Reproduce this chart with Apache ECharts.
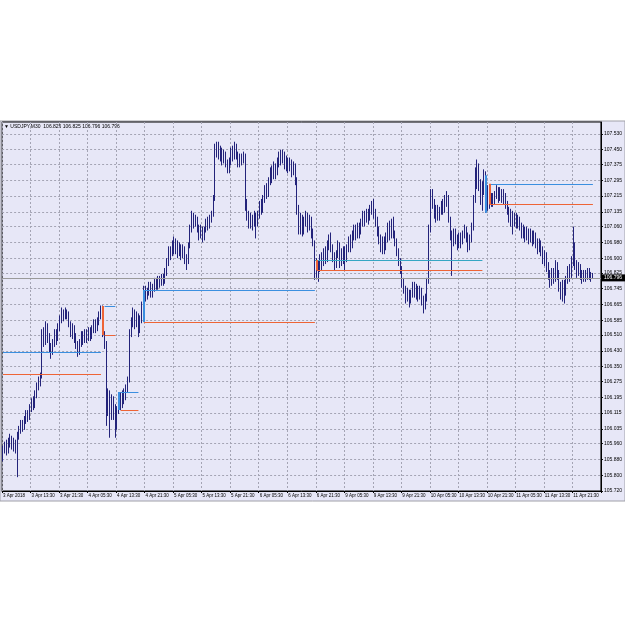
<!DOCTYPE html>
<html>
<head>
<meta charset="utf-8">
<script src="https://cdn.jsdelivr.net/npm/echarts@6/dist/echarts.min.js"></script>
<style>
  html, body { margin: 0; padding: 0; background: #ffffff; }
  #chart { width: 625px; height: 625px; }
</style>
</head>
<body>
<div id="chart"></div>
<script>
// USDJPY M30, 3 Apr 05:30 -> 12 Apr 03:00, one row per bar: [open, close, low, high]
const candles = [
  [105.90,105.93,105.87,105.95],[105.93,105.95,105.91,105.97],[105.95,105.92,105.90,105.98],[105.92,105.96,105.91,105.99],
  [105.96,105.98,105.94,106.01],[105.98,105.94,105.93,106.00],[105.94,105.97,105.92,105.99],[105.97,105.93,105.91,105.98],
  [105.93,106.00,105.79,106.02],[106.00,106.03,105.98,106.05],[106.03,106.06,106.01,106.08],[106.06,106.04,106.02,106.08],
  [106.04,106.08,106.03,106.10],[106.08,106.11,106.06,106.13],[106.11,106.09,106.07,106.13],[106.09,106.14,106.08,106.16],
  [106.14,106.17,106.12,106.19],[106.17,106.15,106.13,106.20],[106.15,106.21,106.14,106.23],[106.21,106.25,106.19,106.27],
  [106.25,106.28,106.23,106.30],[106.28,106.30,106.25,106.32],[106.30,106.52,106.29,106.54],[106.52,106.48,106.45,106.55],
  [106.48,106.55,106.46,106.58],[106.55,106.50,106.47,106.57],[106.50,106.45,106.42,106.52],[106.45,106.42,106.39,106.47],
  [106.42,106.47,106.41,106.49],[106.47,106.52,106.45,106.54],[106.52,106.49,106.46,106.54],[106.49,106.55,106.48,106.57],
  [106.55,106.59,106.53,106.61],[106.59,106.63,106.57,106.65],[106.63,106.60,106.58,106.64],[106.60,106.63,106.59,106.65],
  [106.63,106.61,106.59,106.64],[106.61,106.57,106.55,106.63],[106.57,106.52,106.50,106.58],[106.52,106.55,106.49,106.57],
  [106.55,106.50,106.47,106.56],[106.50,106.46,106.44,106.52],[106.46,106.43,106.40,106.48],[106.43,106.47,106.41,106.49],
  [106.47,106.51,106.45,106.53],[106.51,106.48,106.46,106.53],[106.48,106.52,106.47,106.54],[106.52,106.49,106.47,106.54],
  [106.49,106.53,106.48,106.55],[106.53,106.50,106.48,106.55],[106.50,106.54,106.49,106.56],[106.54,106.57,106.52,106.59],
  [106.57,106.54,106.52,106.59],[106.54,106.58,106.53,106.60],[106.58,106.61,106.56,106.63],[106.61,106.65,106.59,106.66],
  [106.65,106.52,106.50,106.66],[106.52,106.47,106.44,106.53],[106.47,106.15,106.05,106.48],[106.15,106.22,106.10,106.24],
  [106.22,106.10,105.99,106.23],[106.10,106.18,106.08,106.21],[106.18,106.14,106.08,106.20],[106.14,106.05,105.99,106.16],
  [106.05,106.13,106.03,106.15],[106.13,106.18,106.11,106.21],[106.18,106.16,106.13,106.22],[106.16,106.21,106.14,106.23],
  [106.21,106.19,106.16,106.24],[106.19,106.24,106.18,106.26],[106.24,106.28,106.22,106.30],[106.28,106.52,106.27,106.54],
  [106.52,106.58,106.50,106.60],[106.58,106.63,106.55,106.65],[106.63,106.57,106.54,106.64],[106.57,106.61,106.55,106.63],
  [106.61,106.55,106.50,106.62],[106.55,106.59,106.52,106.61],[106.59,106.65,106.57,106.68],[106.65,106.74,106.62,106.76],
  [106.74,106.70,106.68,106.76],[106.70,106.73,106.69,106.75],[106.73,106.76,106.71,106.78],[106.76,106.72,106.70,106.78],
  [106.72,106.75,106.70,106.77],[106.75,106.78,106.73,106.80],[106.78,106.76,106.74,106.80],[106.76,106.79,106.74,106.81],
  [106.79,106.77,106.75,106.81],[106.77,106.80,106.76,106.82],[106.80,106.78,106.76,106.82],[106.78,106.83,106.77,106.85],
  [106.83,106.88,106.81,106.90],[106.88,106.94,106.86,106.96],[106.94,106.92,106.89,106.96],[106.92,106.97,106.91,106.99],
  [106.97,106.94,106.92,107.01],[106.94,106.98,106.92,107.00],[106.98,106.93,106.90,106.99],[106.93,106.96,106.91,106.98],
  [106.96,106.92,106.89,106.97],[106.92,106.95,106.90,106.97],[106.95,106.90,106.87,106.96],[106.90,106.88,106.84,106.92],
  [106.88,106.96,106.87,106.98],[106.96,107.05,106.95,107.07],[107.05,107.11,107.03,107.14],[107.11,107.08,107.05,107.13],
  [107.08,107.10,107.06,107.12],[107.10,107.05,107.03,107.11],[107.05,107.02,106.99,107.07],[107.02,107.05,107.00,107.07],
  [107.05,107.01,106.98,107.06],[107.01,107.04,106.99,107.06],[107.04,107.08,107.03,107.10],[107.08,107.06,107.04,107.11],
  [107.06,107.10,107.05,107.12],[107.10,107.12,107.08,107.14],[107.12,107.20,107.11,107.22],[107.20,107.44,107.19,107.48],
  [107.44,107.47,107.41,107.49],[107.47,107.42,107.40,107.49],[107.42,107.45,107.39,107.47],[107.45,107.40,107.37,107.46],
  [107.40,107.43,107.38,107.45],[107.43,107.38,107.36,107.44],[107.38,107.35,107.33,107.40],[107.35,107.39,107.33,107.41],
  [107.39,107.44,107.37,107.46],[107.44,107.41,107.39,107.47],[107.41,107.46,107.40,107.49],[107.46,107.42,107.40,107.48],
  [107.42,107.38,107.36,107.44],[107.38,107.41,107.36,107.43],[107.41,107.39,107.37,107.43],[107.39,107.42,107.38,107.44],
  [107.42,107.18,107.14,107.43],[107.18,107.12,107.09,107.20],[107.12,107.07,107.05,107.14],[107.07,107.11,107.05,107.13],
  [107.11,107.08,107.04,107.12],[107.08,107.12,107.06,107.14],[107.12,107.07,107.00,107.13],[107.07,107.12,107.06,107.14],
  [107.12,107.17,107.10,107.19],[107.17,107.14,107.12,107.20],[107.14,107.20,107.13,107.22],[107.20,107.25,107.18,107.27],
  [107.25,107.22,107.20,107.28],[107.22,107.29,107.21,107.31],[107.29,107.34,107.27,107.36],[107.34,107.31,107.28,107.37],
  [107.31,107.37,107.30,107.39],[107.37,107.33,107.30,107.38],[107.33,107.38,107.32,107.41],[107.38,107.42,107.36,107.44],
  [107.42,107.39,107.37,107.45],[107.39,107.43,107.38,107.45],[107.43,107.37,107.35,107.44],[107.37,107.40,107.34,107.42],
  [107.40,107.36,107.33,107.41],[107.36,107.39,107.34,107.41],[107.39,107.34,107.31,107.40],[107.34,107.37,107.32,107.39],
  [107.37,107.29,107.27,107.38],[107.29,107.15,107.12,107.31],[107.15,107.05,107.02,107.17],[107.05,107.10,107.02,107.13],
  [107.10,107.04,107.01,107.12],[107.04,107.09,107.02,107.11],[107.09,107.12,107.06,107.14],[107.12,107.06,107.03,107.13],
  [107.06,107.10,107.04,107.12],[107.10,107.03,107.00,107.11],[107.03,106.98,106.96,107.05],[106.98,106.85,106.79,106.99],
  [106.85,106.88,106.80,106.90],[106.88,106.84,106.78,106.89],[106.84,106.90,106.83,106.92],[106.90,106.87,106.84,106.93],
  [106.87,106.93,106.86,106.95],[106.93,106.90,106.87,106.96],[106.90,106.96,106.88,106.99],[106.96,107.00,106.94,107.02],
  [107.00,106.95,106.93,107.03],[106.95,106.91,106.88,106.97],[106.91,106.86,106.84,106.93],[106.86,106.92,106.85,106.94],
  [106.92,106.97,106.90,106.99],[106.97,106.93,106.85,106.98],[106.93,106.89,106.86,106.95],[106.89,106.94,106.87,106.96],
  [106.94,106.90,106.84,106.96],[106.90,106.95,106.88,106.97],[106.95,106.99,106.93,107.01],[106.99,106.96,106.93,107.02],
  [106.96,107.01,106.95,107.04],[107.01,107.05,106.99,107.07],[107.05,107.02,106.99,107.07],[107.02,107.06,107.00,107.08],
  [107.06,107.03,107.00,107.08],[107.03,107.08,107.02,107.10],[107.08,107.12,107.06,107.14],[107.12,107.09,107.06,107.14],
  [107.09,107.13,107.08,107.15],[107.13,107.10,107.07,107.15],[107.10,107.14,107.09,107.17],[107.14,107.17,107.12,107.19],
  [107.17,107.13,107.10,107.20],[107.13,107.09,107.06,107.15],[107.09,107.04,107.01,107.11],[107.04,107.00,106.97,107.06],
  [107.00,106.96,106.93,107.02],[106.96,106.99,106.92,107.01],[106.99,106.95,106.92,107.01],[106.95,107.00,106.94,107.03],
  [107.00,107.05,106.98,107.08],[107.05,107.02,106.99,107.09],[107.02,107.07,107.00,107.10],[107.07,107.03,107.00,107.11],
  [107.03,106.98,106.96,107.04],[106.98,106.93,106.91,107.00],[106.93,106.88,106.86,106.95],[106.88,106.84,106.82,106.90],
  [106.84,106.78,106.75,106.86],[106.78,106.74,106.72,106.80],[106.74,106.70,106.67,106.76],[106.70,106.73,106.68,106.75],
  [106.73,106.68,106.65,106.74],[106.68,106.72,106.67,106.74],[106.72,106.76,106.70,106.78],[106.76,106.72,106.70,106.78],
  [106.72,106.75,106.69,106.77],[106.75,106.71,106.68,106.76],[106.71,106.74,106.69,106.76],[106.74,106.69,106.66,106.75],
  [106.69,106.66,106.62,106.71],[106.66,106.70,106.64,106.72],[106.70,106.78,106.68,106.80],[106.78,107.05,106.77,107.07],
  [107.05,107.22,107.03,107.25],[107.22,107.18,107.15,107.25],[107.18,107.12,107.10,107.20],[107.12,107.15,107.08,107.17],
  [107.15,107.11,107.09,107.17],[107.11,107.14,107.09,107.16],[107.14,107.17,107.12,107.19],[107.17,107.14,107.12,107.20],
  [107.14,107.19,107.13,107.22],[107.19,107.21,107.16,107.24],[107.21,107.10,107.08,107.22],[107.10,107.02,106.99,107.11],
  [107.02,106.98,106.81,107.04],[106.98,107.03,106.96,107.05],[107.03,107.00,106.97,107.05],[107.00,106.97,106.94,107.02],
  [106.97,107.01,106.95,107.03],[107.01,106.98,106.95,107.03],[106.98,107.02,106.97,107.04],[107.02,107.05,107.00,107.07],
  [107.05,107.01,106.98,107.06],[107.01,106.96,106.93,107.03],[106.96,107.00,106.94,107.02],[107.00,107.05,106.98,107.08],
  [107.05,107.20,107.04,107.22],[107.20,107.33,107.18,107.36],[107.33,107.36,107.25,107.40],[107.36,107.28,107.24,107.38],
  [107.28,107.20,107.17,107.30],[107.20,107.27,107.14,107.29],[107.27,107.32,107.22,107.35],[107.32,107.16,107.13,107.34],
  [107.16,107.20,107.14,107.27],[107.20,107.17,107.15,107.22],[107.17,107.21,107.16,107.23],[107.21,107.18,107.16,107.23],
  [107.18,107.22,107.17,107.24],[107.22,107.25,107.20,107.27],[107.25,107.21,107.18,107.26],[107.21,107.24,107.19,107.26],
  [107.24,107.20,107.18,107.25],[107.20,107.22,107.17,107.25],[107.22,107.17,107.15,107.23],[107.17,107.14,107.12,107.19],
  [107.14,107.10,107.08,107.16],[107.10,107.13,107.06,107.15],[107.13,107.08,107.02,107.14],[107.08,107.11,107.06,107.13],
  [107.11,107.07,107.05,107.13],[107.07,107.10,107.05,107.12],[107.10,107.06,107.04,107.11],[107.06,107.02,107.00,107.08],
  [107.02,107.05,107.00,107.07],[107.05,107.01,106.98,107.06],[107.01,107.04,106.99,107.06],[107.04,107.00,106.97,107.05],
  [107.00,107.03,106.98,107.05],[107.03,106.99,106.96,107.04],[106.99,107.02,106.97,107.04],[107.02,106.98,106.95,107.03],
  [106.98,106.95,106.92,107.00],[106.95,106.98,106.93,107.00],[106.98,106.94,106.91,106.99],[106.94,106.89,106.87,106.96],
  [106.89,106.92,106.86,106.94],[106.92,106.86,106.83,106.93],[106.86,106.82,106.79,106.88],[106.82,106.78,106.75,106.84],
  [106.78,106.83,106.76,106.85],[106.83,106.80,106.77,106.85],[106.80,106.86,106.78,106.89],[106.86,106.82,106.79,106.88],
  [106.82,106.76,106.73,106.84],[106.76,106.72,106.69,106.78],[106.72,106.77,106.68,106.79],[106.77,106.73,106.67,106.79],
  [106.73,106.79,106.71,106.81],[106.79,106.84,106.77,106.86],[106.84,106.81,106.78,106.87],[106.81,106.88,106.80,106.91],
  [106.88,106.96,106.86,107.06],[106.96,106.87,106.84,106.98],[106.87,106.83,106.80,106.89],[106.83,106.86,106.81,106.88],
  [106.86,106.82,106.79,106.87],[106.82,106.79,106.77,106.84],[106.79,106.82,106.78,106.84],[106.82,106.80,106.78,106.84],
  [106.80,106.83,106.79,106.85],[106.83,106.81,106.79,106.85],[106.81,106.82,106.78,106.83],[106.825,106.796,106.796,106.825]
];

const xTickLabels = [
  "3 Apr 2018", "3 Apr 13:30", "3 Apr 21:30", "4 Apr 05:30", "4 Apr 13:30", "4 Apr 21:30",
  "5 Apr 05:30", "5 Apr 13:30", "5 Apr 21:30", "6 Apr 05:30", "6 Apr 13:30", "6 Apr 21:30",
  "9 Apr 05:30", "9 Apr 13:30", "9 Apr 21:30", "10 Apr 05:30", "10 Apr 13:30", "10 Apr 21:30",
  "11 Apr 05:30", "11 Apr 13:30", "11 Apr 21:30"
];
const barsPerLabel = 16;

const yTickValues = [
  107.530, 107.450, 107.375, 107.295, 107.215, 107.135, 107.060, 106.980, 106.900, 106.825,
  106.745, 106.665, 106.585, 106.510, 106.430, 106.350, 106.275, 106.195, 106.115, 106.035,
  105.960, 105.880, 105.800, 105.720
];

// indicator levels: [fromBar, toBar, price]
const upperLevels = [[0, 55, 106.425], [57, 63, 106.658], [66, 76, 106.222], [79, 175, 106.739], [175, 269, 106.891], [273, 331, 107.277]];
const lowerLevels = [[0, 55, 106.313], [57, 63, 106.511], [66, 76, 106.131], [79, 175, 106.577], [176, 269, 106.840], [273, 331, 107.175]];
// vertical jumps: [bar, price1, price2]
const blueJumps = [[65, 106.222, 106.131], [79, 106.739, 106.577], [271, 107.32, 107.13]];
const orangeJumps = [[56, 106.658, 106.511], [176, 106.891, 106.840], [273, 107.277, 107.175]];

const symbolName = "USDJPY,M30";
const lastOHLC = [106.825, 106.825, 106.796, 106.796];
const lastPrice = 106.796;
const rightShiftBars = 4;

const chart = echarts.init(document.getElementById("chart"));

const categories = [];
for (let i = 0; i < candles.length + rightShiftBars; i++) categories.push(i);

const isLabelBar = idx => idx % barsPerLabel === 0 && idx / barsPerLabel < xTickLabels.length;

const BLUE = "#3b8fe0";
const TEAL = "#35a6c4";
const ORANGE = "#ee6436";

const seg = (a, b, color, width) => [
  { coord: [a[0], a[1]], lineStyle: { color: color, width: width, type: "solid" } },
  { coord: [b[0], b[1]] }
];

const markData = [];
upperLevels.forEach((l, k) => markData.push(seg([l[0], l[2]], [l[1], l[2]], k === 4 ? TEAL : BLUE, 1)));
lowerLevels.forEach(l => markData.push(seg([l[0], l[2]], [l[1], l[2]], ORANGE, 1)));
blueJumps.forEach(j => markData.push(seg([j[0], j[1]], [j[0], j[2]], BLUE, 2)));
orangeJumps.forEach(j => markData.push(seg([j[0], j[1]], [j[0], j[2]], ORANGE, 2)));
// current price line with the black price box on the right
markData.push({
  yAxis: lastPrice,
  lineStyle: { color: "#9a9a9a", width: 1, type: "solid" },
  label: {
    show: true,
    position: "end",
    formatter: lastPrice.toFixed(3),
    color: "#ffffff",
    backgroundColor: "#000000",
    fontSize: 5,
    fontFamily: "Liberation Sans",
    padding: [1, 3, 1, 2],
    distance: 1
  }
});

const option = {
  animation: false,
  backgroundColor: "#ffffff",
  graphic: [
    {
      type: "rect",
      z: -100,
      silent: true,
      shape: { x: 0, y: 121, width: 625, height: 380 },
      style: { fill: "#e7e7f7", stroke: "#a0a0a8", lineWidth: 1 }
    },
    {
      type: "text",
      left: 4,
      top: 124,
      silent: true,
      style: {
        text: "\u25BC " + symbolName + "  " + lastOHLC.map(v => v.toFixed(3)).join(" "),
        fill: "#000000",
        font: "5px Liberation Sans"
      }
    }
  ],
  grid: {
    left: 1,
    right: 20,
    top: 122,
    bottom: 134,
    show: true,
    backgroundColor: "#e7e7f7",
    borderColor: "#000000",
    borderWidth: 1
  },
  xAxis: {
    type: "category",
    data: categories,
    boundaryGap: true,
    axisLine: { lineStyle: { color: "#000000", width: 1 } },
    axisTick: { show: true, length: 2, interval: isLabelBar, lineStyle: { color: "#000000" } },
    axisLabel: {
      interval: isLabelBar,
      formatter: (val, idx) => xTickLabels[idx / barsPerLabel] || "",
      align: "left",
      margin: 2,
      fontSize: 4.5,
      fontFamily: "Liberation Sans",
      color: "#000000"
    },
    splitLine: {
      show: true,
      interval: isLabelBar,
      lineStyle: { color: "#a4a4b4", width: 1, type: [2, 2] }
    }
  },
  yAxis: {
    type: "value",
    position: "right",
    min: 105.72,
    max: 107.59,
    scale: true,
    axisLine: { show: true, lineStyle: { color: "#000000", width: 1 } },
    axisTick: { show: true, length: 2, customValues: yTickValues, lineStyle: { color: "#000000" } },
    axisLabel: {
      customValues: yTickValues,
      formatter: v => v.toFixed(3),
      margin: 3,
      fontSize: 5,
      fontFamily: "Liberation Sans",
      color: "#000000"
    },
    splitLine: {
      show: true,
      lineStyle: { color: "#a4a4b4", width: 1, type: [2, 2] }
    }
  },
  series: [
    {
      type: "candlestick",
      data: candles,
      barWidth: 1.2,
      itemStyle: {
        color: "#8a8ad8",
        color0: "#2c2c86",
        borderColor: "#23237a",
        borderColor0: "#23237a",
        borderWidth: 1
      },
      markLine: {
        silent: true,
        symbol: "none",
        animation: false,
        label: { show: false },
        data: markData
      }
    }
  ]
};

chart.setOption(option);
</script>
</body>
</html>
